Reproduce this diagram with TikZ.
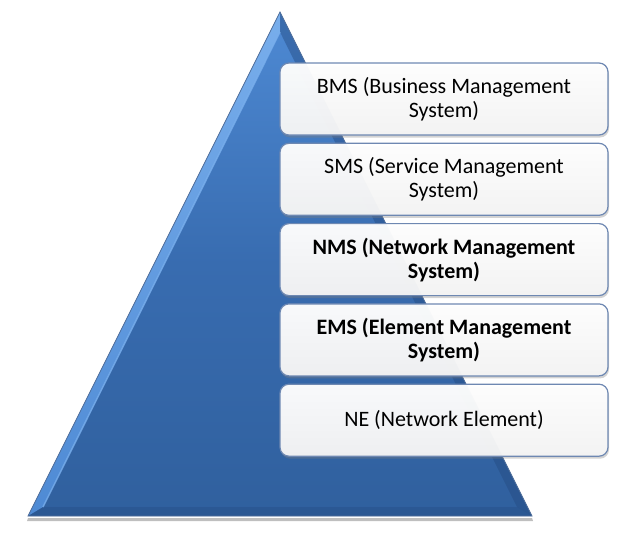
\documentclass[tikz,border=0pt]{standalone}
\usepackage{fontspec}
\setmainfont{Carlito}
\usetikzlibrary{shadows}
\definecolor{pyrblue}{RGB}{56,108,176}
\definecolor{pyrlight}{RGB}{78,138,212}
\definecolor{pyrdark}{RGB}{48,96,158}
\definecolor{bevlight}{RGB}{120,174,236}
\definecolor{bevdark}{RGB}{36,74,128}
\definecolor{boxline}{RGB}{110,136,178}

\begin{document}
\begin{tikzpicture}[x=1pt, y=-1pt,
    layer/.style={draw=boxline, line width=1.2pt, rounded corners=9pt, top color=white, bottom color=black!4, fill opacity=0.96, text opacity=1, minimum width=328pt, minimum height=72pt, align=center, font=\fontsize{22}{24}\selectfont, drop shadow={shadow xshift=1pt, shadow yshift=-2.5pt, opacity=0.35}}]
\useasboundingbox (0,0) rectangle (636,546);

% Pyramid
\coordinate (apex) at (280,12);
\coordinate (baseL) at (28,516);
\coordinate (baseR) at (532,516);
\coordinate (inApex) at (280,32);
\coordinate (inL) at (43,507);
\coordinate (inR) at (517,507);
\fill[black, opacity=0.25] (28,518) -- (532,518) -- (533,521) -- (27,521) -- cycle;
\shade[top color=pyrlight, bottom color=pyrdark, middle color=pyrblue] (apex) -- (baseR) -- (baseL) -- cycle;
\shade[top color=bevlight, bottom color=pyrlight] (apex) -- (inApex) -- (inL) -- (baseL) -- cycle;
\fill[bevdark, opacity=0.45] (apex) -- (inApex) -- (inR) -- (baseR) -- cycle;
\fill[bevdark, opacity=0.35] (baseL) -- (inL) -- (inR) -- (baseR) -- cycle;
\draw[bevlight, line width=1.5pt, opacity=0.8] (inL) -- (inApex);
\draw[bevdark!80, line width=0.8pt] (baseL) -- (apex) -- (baseR) -- cycle;

% Layers
\foreach \i/\n/\t in {0/bms/{BMS (Business Management\\System)}, 1/sms/{SMS (Service Management\\System)}, 2/nms/{\textbf{NMS (Network Management}\\\textbf{System)}}, 3/ems/{\textbf{EMS (Element Management}\\\textbf{System)}}, 4/ne/{NE (Network Element)}}{
    \node[layer] (\n) at (444,99+80.3*\i) {\t};
}

\end{tikzpicture}
\end{document}
